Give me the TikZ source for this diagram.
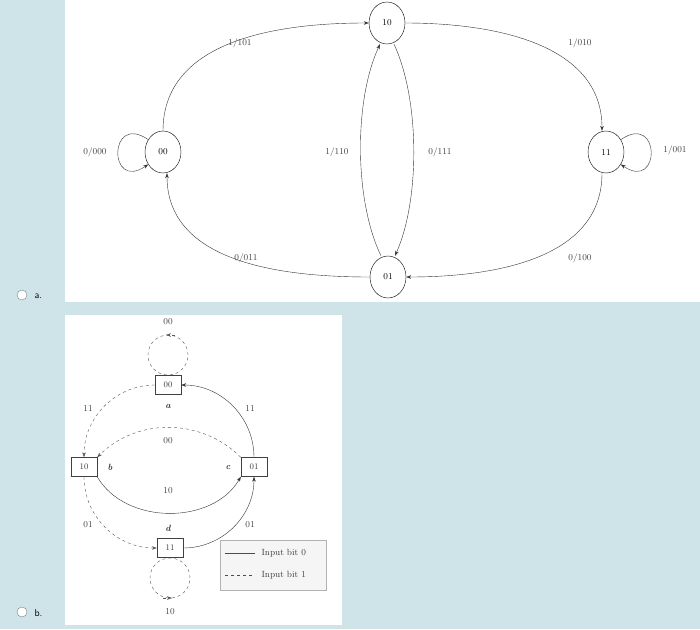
\documentclass[tikz,border=0pt]{standalone}
\usetikzlibrary{arrows.meta,shapes.geometric}
\begin{document}
\begin{tikzpicture}[x=1pt,y=-1pt,
  st/.style={ellipse,draw,minimum width=36pt,minimum height=42pt,inner sep=0pt,font=\fontsize{9}{10}\selectfont},
  bx/.style={draw,black!75,text=black!80,minimum width=26pt,minimum height=19pt,inner sep=0pt,font=\fontsize{8.5}{10}\selectfont},
  lab/.style={font=\fontsize{9}{10}\selectfont,text=black!75},
  blab/.style={font=\bfseries\itshape\fontsize{9}{10}\selectfont,text=black!80},
  ar/.style={-{Stealth[length=5pt,width=3.5pt]},black!80},
  dsh/.style={ar,dashed,black!65}]
\useasboundingbox (0,0) rectangle (700,629);
\fill[fill={rgb,255:red,206;green,228;blue,233}] (0,0) rectangle (700,629);
\fill[white] (65,0) rectangle (700,302);
\fill[white] (65,315) rectangle (342,625);
% radio buttons
\node[circle,draw=black!50,fill=white,minimum size=10pt,inner sep=0pt] (ra) at (22,295) {};
\node[anchor=west,font=\sffamily\fontsize{10}{11}\selectfont] (ta) at (31,296) {a.};
\node[circle,draw=black!50,fill=white,minimum size=10pt,inner sep=0pt] (rb) at (22,612) {};
\node[anchor=west,font=\sffamily\fontsize{10}{11}\selectfont] (tb) at (31,613) {b.};
% panel a
\node[st] (n00) at (163,152) {00};
\node[st] (n10) at (387,23) {10};
\node[st] (n01) at (388,277) {01};
\node[st] (n11) at (606,152) {11};
\draw[ar] (n00.north) to[out=90,in=180] (n10.west);
\draw[ar] (n10.east) to[out=0,in=90] ([xshift=-4pt]n11.north);
\draw[ar] ([xshift=-4pt]n11.south) to[out=-90,in=0] (n01.east);
\draw[ar] (n01.west) to[out=180,in=-90] ([xshift=4pt]n00.south);
\draw[ar] ([xshift=7pt]n10.south) .. controls (420,100) and (420,200) .. ([xshift=7pt]n01.north);
\draw[ar] ([xshift=-7pt]n01.north) .. controls (354,200) and (354,100) .. ([xshift=-7pt]n10.south);
\draw[ar] (n00.140) .. controls (108,112) and (108,192) .. (n00.220);
\draw[ar] (n11.40) .. controls (661,112) and (661,192) .. (n11.-40);
\node[lab] (l1) at (240,43) {1/101};
\node[lab] (l2) at (580,43) {1/010};
\node[lab] (l3) at (337,152) {1/110};
\node[lab] (l4) at (440,152) {0/111};
\node[lab] (l5) at (95,152) {0/000};
\node[lab] (l6) at (675,150) {1/001};
\node[lab] (l7) at (246,258) {0/011};
\node[lab] (l8) at (580,258) {0/100};
% panel b
\node[bx] (a) at (168,385) {00};
\node[bx] (b) at (84,467) {10};
\node[bx] (c) at (254,467) {01};
\node[bx] (d) at (170,548) {11};
\node[blab] (la) at (168,406) {a};
\node[blab] (lb) at (110,467) {b};
\node[blab] (lc) at (228,467) {c};
\node[blab] (ld) at (168,528) {d};
\draw[black!65,dashed] (168,355) circle[radius=20pt];
\draw[dsh] (175,335) -- (166,335);
\draw[black!65,dashed] (170,578) circle[radius=20pt];
\draw[dsh] (163,598) -- (172,598);
\draw[dsh] (a.west) to[out=180,in=90] (b.north);
\draw[ar] (c.north) to[out=90,in=0] (a.east);
\draw[dsh] (c.north west) to[out=135,in=45] (b.north east);
\draw[ar] (b.south east) to[out=-60,in=-120] (c.south west);
\draw[dsh] (b.south) to[out=-90,in=180] (d.west);
\draw[ar] (d.east) to[out=0,in=-90] (c.south);
\node[lab] (m1) at (168,322) {00};
\node[lab] (m2) at (170,612) {10};
\node[lab] (m3) at (88,408) {11};
\node[lab] (m4) at (250,408) {11};
\node[lab] (m5) at (168,441) {00};
\node[lab] (m6) at (168,491) {10};
\node[lab] (m7) at (88,525) {01};
\node[lab] (m8) at (250,525) {01};
\node[draw=black!30,fill=black!4,minimum width=106pt,minimum height=50pt] (leg) at (273,565) {};
\coordinate (p1) at (225,553); \coordinate (p2) at (255,553);
\coordinate (q1) at (225,575); \coordinate (q2) at (255,575);
\draw[black!70] (p1) -- (p2);
\draw[black!70,dashed] (q1) -- (q2);
\node[lab,anchor=west] (t1) at (258,553) {Input bit 0};
\node[lab,anchor=west] (t2) at (258,575) {Input bit 1};
\end{tikzpicture}
\end{document}
